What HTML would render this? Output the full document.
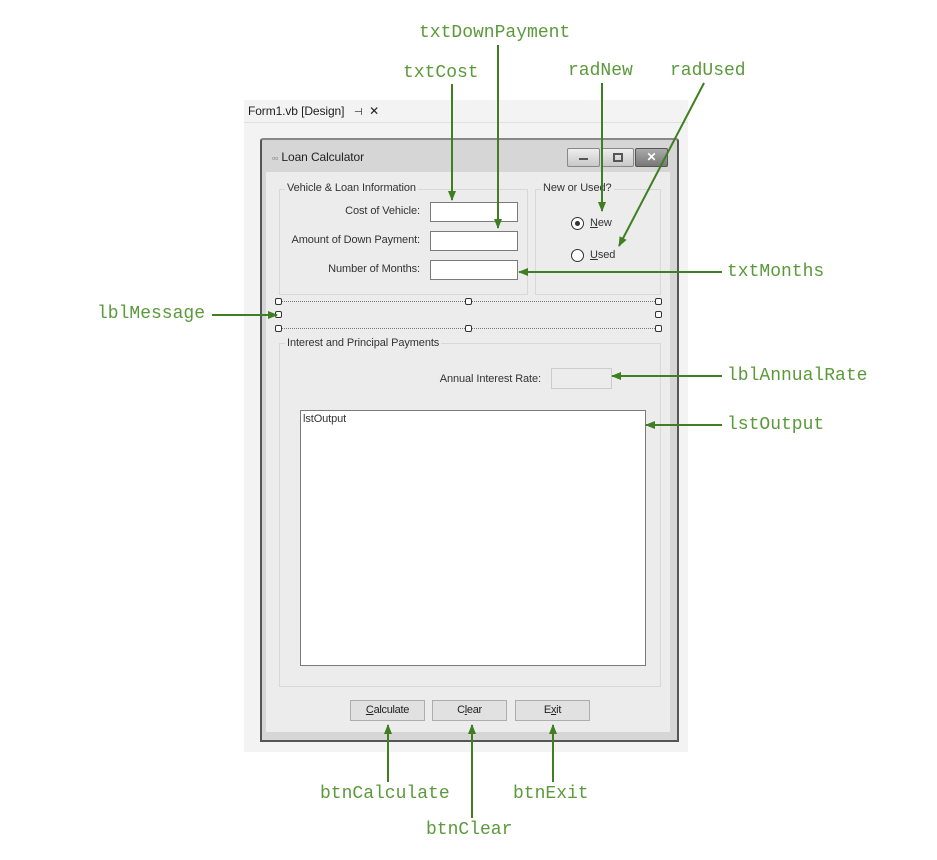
<!DOCTYPE html>
<html><head><meta charset="utf-8"><style>
body{margin:0;width:937px;height:860px;background:#fff;position:relative;overflow:hidden;font-family:"Liberation Sans",sans-serif;}
.a{position:absolute;}
.t{position:absolute;font-size:11px;color:#333;white-space:nowrap;letter-spacing:-0.1px;}
.r{position:absolute;font-size:11px;color:#333;white-space:nowrap;letter-spacing:-0.1px;text-align:right;width:200px;}
.g{position:absolute;border:1px solid #d8d8d8;}
.gt{position:absolute;background:#ececec;padding:0 2px;font-size:11px;color:#333;white-space:nowrap;letter-spacing:-0.1px;}
.tb{position:absolute;background:#fff;border:1px solid #7a7a7a;}
.btn{position:absolute;background:#e1e1e1;border:1px solid #adadad;font-size:11px;color:#222;text-align:center;line-height:19px;letter-spacing:-0.3px;}
.lab{position:absolute;font-family:"Liberation Mono",monospace;font-size:18px;color:#5a9a3a;white-space:nowrap;}
.h{position:absolute;width:5px;height:5px;border:1px solid #333;background:#fff;border-radius:2px;}
</style></head><body>
<div class="a" style="left:244px;top:100px;width:444px;height:652px;background:#f3f3f3;"></div>
<div class="a" style="left:244px;top:122px;width:444px;height:1px;background:#e0e0e0;"></div>
<div class="t" style="left:248px;top:104px;font-size:12px;color:#222;">Form1.vb [Design]&nbsp;&nbsp; <span style="font-size:10px">⊣</span>&nbsp; ✕</div>
<!-- form -->
<div class="a" style="left:260px;top:138px;width:415px;height:600px;border:2px solid #555;border-top-color:#888;background:#d6d6d6;border-radius:3px 3px 0 0;"></div>
<div class="a" style="left:266px;top:172px;width:404px;height:560px;background:#ececec;"></div>
<div class="t" style="left:272px;top:150px;font-size:12px;color:#222;"><span style="font-size:9px;color:#666">▫▫</span> Loan Calculator</div>
<div class="a" style="left:567px;top:148px;width:31px;height:17px;background:linear-gradient(#eee,#c8c8c8);border:1px solid #888;border-radius:2px;"><div class="a" style="left:11px;top:9px;width:9px;height:2px;background:#555"></div></div>
<div class="a" style="left:601px;top:148px;width:31px;height:17px;background:linear-gradient(#eee,#c8c8c8);border:1px solid #888;border-radius:2px;"><div class="a" style="left:11px;top:4px;width:6px;height:5px;border:2px solid #555"></div></div>
<div class="a" style="left:635px;top:148px;width:31px;height:17px;background:linear-gradient(#aaa,#777);border:1px solid #555;border-radius:2px;color:#fff;font-size:12px;font-weight:bold;text-align:center;line-height:17px;">✕</div>
<!-- group 1 -->
<div class="g" style="left:279px;top:189px;width:247px;height:104px;"></div>
<div class="gt" style="left:285px;top:182px;">Vehicle &amp; Loan Information</div>
<div class="r" style="left:220px;top:205px;">Cost of Vehicle:</div>
<div class="r" style="left:220px;top:234px;">Amount of Down Payment:</div>
<div class="r" style="left:220px;top:263px;">Number of Months:</div>
<div class="tb" style="left:430px;top:202px;width:86px;height:18px;"></div>
<div class="tb" style="left:430px;top:231px;width:86px;height:18px;"></div>
<div class="tb" style="left:430px;top:260px;width:86px;height:18px;"></div>
<!-- group 2 -->
<div class="g" style="left:535px;top:189px;width:124px;height:104px;"></div>
<div class="gt" style="left:541px;top:182px;">New or Used?</div>
<div class="a" style="left:571px;top:217px;width:11px;height:11px;border:1px solid #333;border-radius:50%;background:#fff;"><div class="a" style="left:3px;top:3px;width:5px;height:5px;border-radius:50%;background:#333"></div></div>
<div class="t" style="left:590px;top:217px;"><u>N</u>ew</div>
<div class="a" style="left:571px;top:249px;width:11px;height:11px;border:1px solid #333;border-radius:50%;background:#fff;"></div>
<div class="t" style="left:590px;top:249px;"><u>U</u>sed</div>
<!-- selection -->
<div class="a" style="left:279px;top:301px;width:380px;border-top:1px dotted #777;"></div>
<div class="a" style="left:279px;top:328px;width:380px;border-top:1px dotted #777;"></div>
<div class="h" style="left:275px;top:298px"></div><div class="h" style="left:465px;top:298px"></div><div class="h" style="left:655px;top:298px"></div>
<div class="h" style="left:275px;top:311px"></div><div class="h" style="left:655px;top:311px"></div>
<div class="h" style="left:275px;top:325px"></div><div class="h" style="left:465px;top:325px"></div><div class="h" style="left:655px;top:325px"></div>
<!-- group 3 -->
<div class="g" style="left:279px;top:343px;width:380px;height:342px;"></div>
<div class="gt" style="left:285px;top:337px;">Interest and Principal Payments</div>
<div class="r" style="left:341px;top:373px;">Annual Interest Rate:</div>
<div class="a" style="left:551px;top:368px;width:59px;height:19px;border:1px solid #ccc;background:#ececec;"></div>
<div class="tb" style="left:300px;top:410px;width:344px;height:254px;"></div>
<div class="t" style="left:303px;top:413px;">lstOutput</div>
<div class="btn" style="left:350px;top:700px;width:73px;height:19px;"><u>C</u>alculate</div>
<div class="btn" style="left:432px;top:700px;width:73px;height:19px;">C<u>l</u>ear</div>
<div class="btn" style="left:515px;top:700px;width:73px;height:19px;">E<u>x</u>it</div>
<!-- labels -->
<div class="lab" style="left:419px;top:23px;">txtDownPayment</div>
<div class="lab" style="left:403px;top:63px;">txtCost</div>
<div class="lab" style="left:568px;top:61px;">radNew</div>
<div class="lab" style="left:670px;top:61px;">radUsed</div>
<div class="lab" style="left:727px;top:262px;">txtMonths</div>
<div class="lab" style="left:97px;top:304px;">lblMessage</div>
<div class="lab" style="left:727px;top:366px;">lblAnnualRate</div>
<div class="lab" style="left:727px;top:415px;">lstOutput</div>
<div class="lab" style="left:320px;top:784px;">btnCalculate</div>
<div class="lab" style="left:426px;top:820px;">btnClear</div>
<div class="lab" style="left:513px;top:784px;">btnExit</div>
<svg class="a" style="left:0;top:0" width="937" height="860">
<defs><marker id="m" markerWidth="10" markerHeight="8" refX="9" refY="4" orient="auto" markerUnits="userSpaceOnUse"><path d="M0,0L10,4L0,8z" fill="#3f7f22"/></marker></defs>
<g stroke="#3f7f22" stroke-width="2" fill="none" marker-end="url(#m)">
<path d="M452,84V200"/>
<path d="M498,45V228"/>
<path d="M602,83V211"/>
<path d="M704,83L619,246"/>
<path d="M722,272H519"/>
<path d="M212,315H277"/>
<path d="M722,376H612"/>
<path d="M722,425H646"/>
<path d="M388,782V725"/>
<path d="M472,818V725"/>
<path d="M553,782V725"/>
</g></svg>
</body></html>
